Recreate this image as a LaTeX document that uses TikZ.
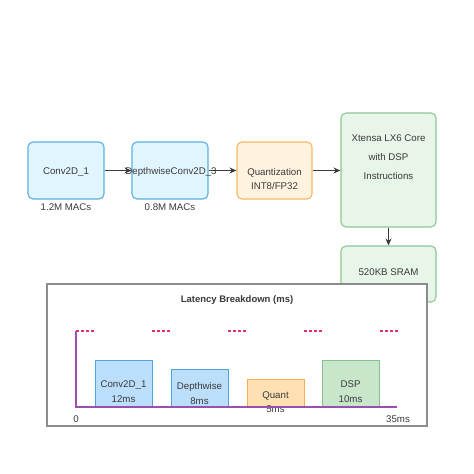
\documentclass[tikz,border=0pt]{standalone}
\usepackage{fontspec}
\setmainfont{Liberation Sans}
\usetikzlibrary{arrows.meta}

\definecolor{inkgray}{HTML}{3A3A3A}
\definecolor{bluefill}{HTML}{E1F5FE}
\definecolor{blueline}{HTML}{5AAEE0}
\definecolor{orangefill}{HTML}{FFF3E0}
\definecolor{orangeline}{HTML}{F7B866}
\definecolor{greenfill}{HTML}{E8F5E9}
\definecolor{greenline}{HTML}{8CC893}
\definecolor{barblue}{HTML}{BBDEFB}
\definecolor{barblueline}{HTML}{4DA3DE}
\definecolor{barorange}{HTML}{FFE0B2}
\definecolor{barorangeline}{HTML}{F5AD50}
\definecolor{bargreen}{HTML}{C8E6C9}
\definecolor{bargreenline}{HTML}{84C18B}
\definecolor{axispurple}{HTML}{9B4FB0}
\definecolor{targetpink}{HTML}{E0306E}
\definecolor{framegray}{HTML}{8C8C8C}

\begin{document}
\begin{tikzpicture}[x = 1pt, y = -1pt, text = inkgray,
  font = \fontsize{9.7}{11}\selectfont,
  stage/.style = {draw, rounded corners = 5pt, line width = 1.1pt,
    minimum width = 76pt, minimum height = 57pt, inner sep = 0pt},
  bar/.style = {draw, line width = 1pt, minimum width = 57pt, inner sep = 0pt},
  flow/.style = {draw = inkgray, line width = 1.2pt, -{Stealth[length = 7pt, width = 6pt]}},
  axis/.style = {draw = axispurple, line width = 1.2pt},
  target/.style = {color = targetpink, line width = 1.1pt, dash pattern = on 2.5pt off 2.5pt}]
\useasboundingbox (0, 0) rectangle (474, 474);

% pipeline
\node[stage, fill = bluefill, draw = blueline] (conv) at (66, 170.5) {};
\node[stage, fill = bluefill, draw = blueline] (dwconv) at (170, 170.5) {};
\node[stage, fill = orangefill, draw = orangeline, minimum width = 75pt] (quant) at (274.5, 170.5) {};
\node[stage, fill = greenfill, draw = greenline, minimum width = 95pt, minimum height = 114pt] (core) at (388.5, 170) {};
\node[stage, fill = greenfill, draw = greenline, minimum width = 95pt, minimum height = 56pt] (sram) at (388.5, 274) {};

\node (convtext) at (66, 172) {Conv2D\_1};
\node (dwtext) at (171, 172) {DepthwiseConv2D\_3};
\node[align = center, font = \fontsize{9.7}{14}\selectfont] (quanttext) at (274.5, 179.5) {Quantization\\INT8/FP32};
\node[align = center, font = \fontsize{9.7}{19}\selectfont] (coretext) at (388.5, 157.5) {Xtensa LX6 Core\\with DSP\\Instructions};
\node (sramtext) at (388.5, 272) {520KB SRAM};

\node (convmacs) at (66, 207) {1.2M MACs};
\node (dwmacs) at (170, 207) {0.8M MACs};

\draw[flow] (conv) -- (dwconv);
\draw[flow] (dwconv) -- (quant);
\draw[flow] (quant) -- (quant -| core.west);
\draw[flow] (core) -- (sram);

% latency chart
\node[draw = framegray, fill = white, line width = 1.1pt, minimum width = 380pt,
  minimum height = 142pt, inner sep = 0pt] (chart) at (237, 355) {};
\node[font = \fontsize{9.5}{11}\selectfont\bfseries] (charttitle) at (237, 300) {Latency Breakdown (ms)};

\node[bar, fill = barblue, draw = barblueline, minimum height = 47pt] (barconv) at (123.5, 383.5) {};
\node[bar, fill = barblue, draw = barblueline, minimum height = 38pt] (bardw) at (199.5, 388) {};
\node[bar, fill = barorange, draw = barorangeline, minimum height = 28pt] (barquant) at (275.5, 393) {};
\node[bar, fill = bargreen, draw = bargreenline, minimum height = 47pt] (bardsp) at (350.5, 383.5) {};

\node[align = center, font = \fontsize{9.7}{15}\selectfont] (convms) at (123.5, 391.5) {Conv2D\_1\\12ms};
\node[align = center, font = \fontsize{9.7}{15}\selectfont] (dwms) at (199.5, 393.5) {Depthwise\\8ms};
\node[align = center, font = \fontsize{9.7}{14}\selectfont] (quantms) at (275.5, 402) {Quant\\5ms};
\node[align = center, font = \fontsize{9.7}{15}\selectfont] (dspms) at (350.5, 391.5) {DSP\\10ms};

\coordinate (origin) at (76, 407);
\draw[axis] (76, 331) -- (origin) -- (397, 407);
\foreach \x in {76, 152, 228, 304, 380}
  \draw[target] (\x, 331) -- ++(19, 0);

\node (zero) at (76, 419) {0};
\node (maxms) at (398, 419) {35ms};
\end{tikzpicture}
\end{document}
